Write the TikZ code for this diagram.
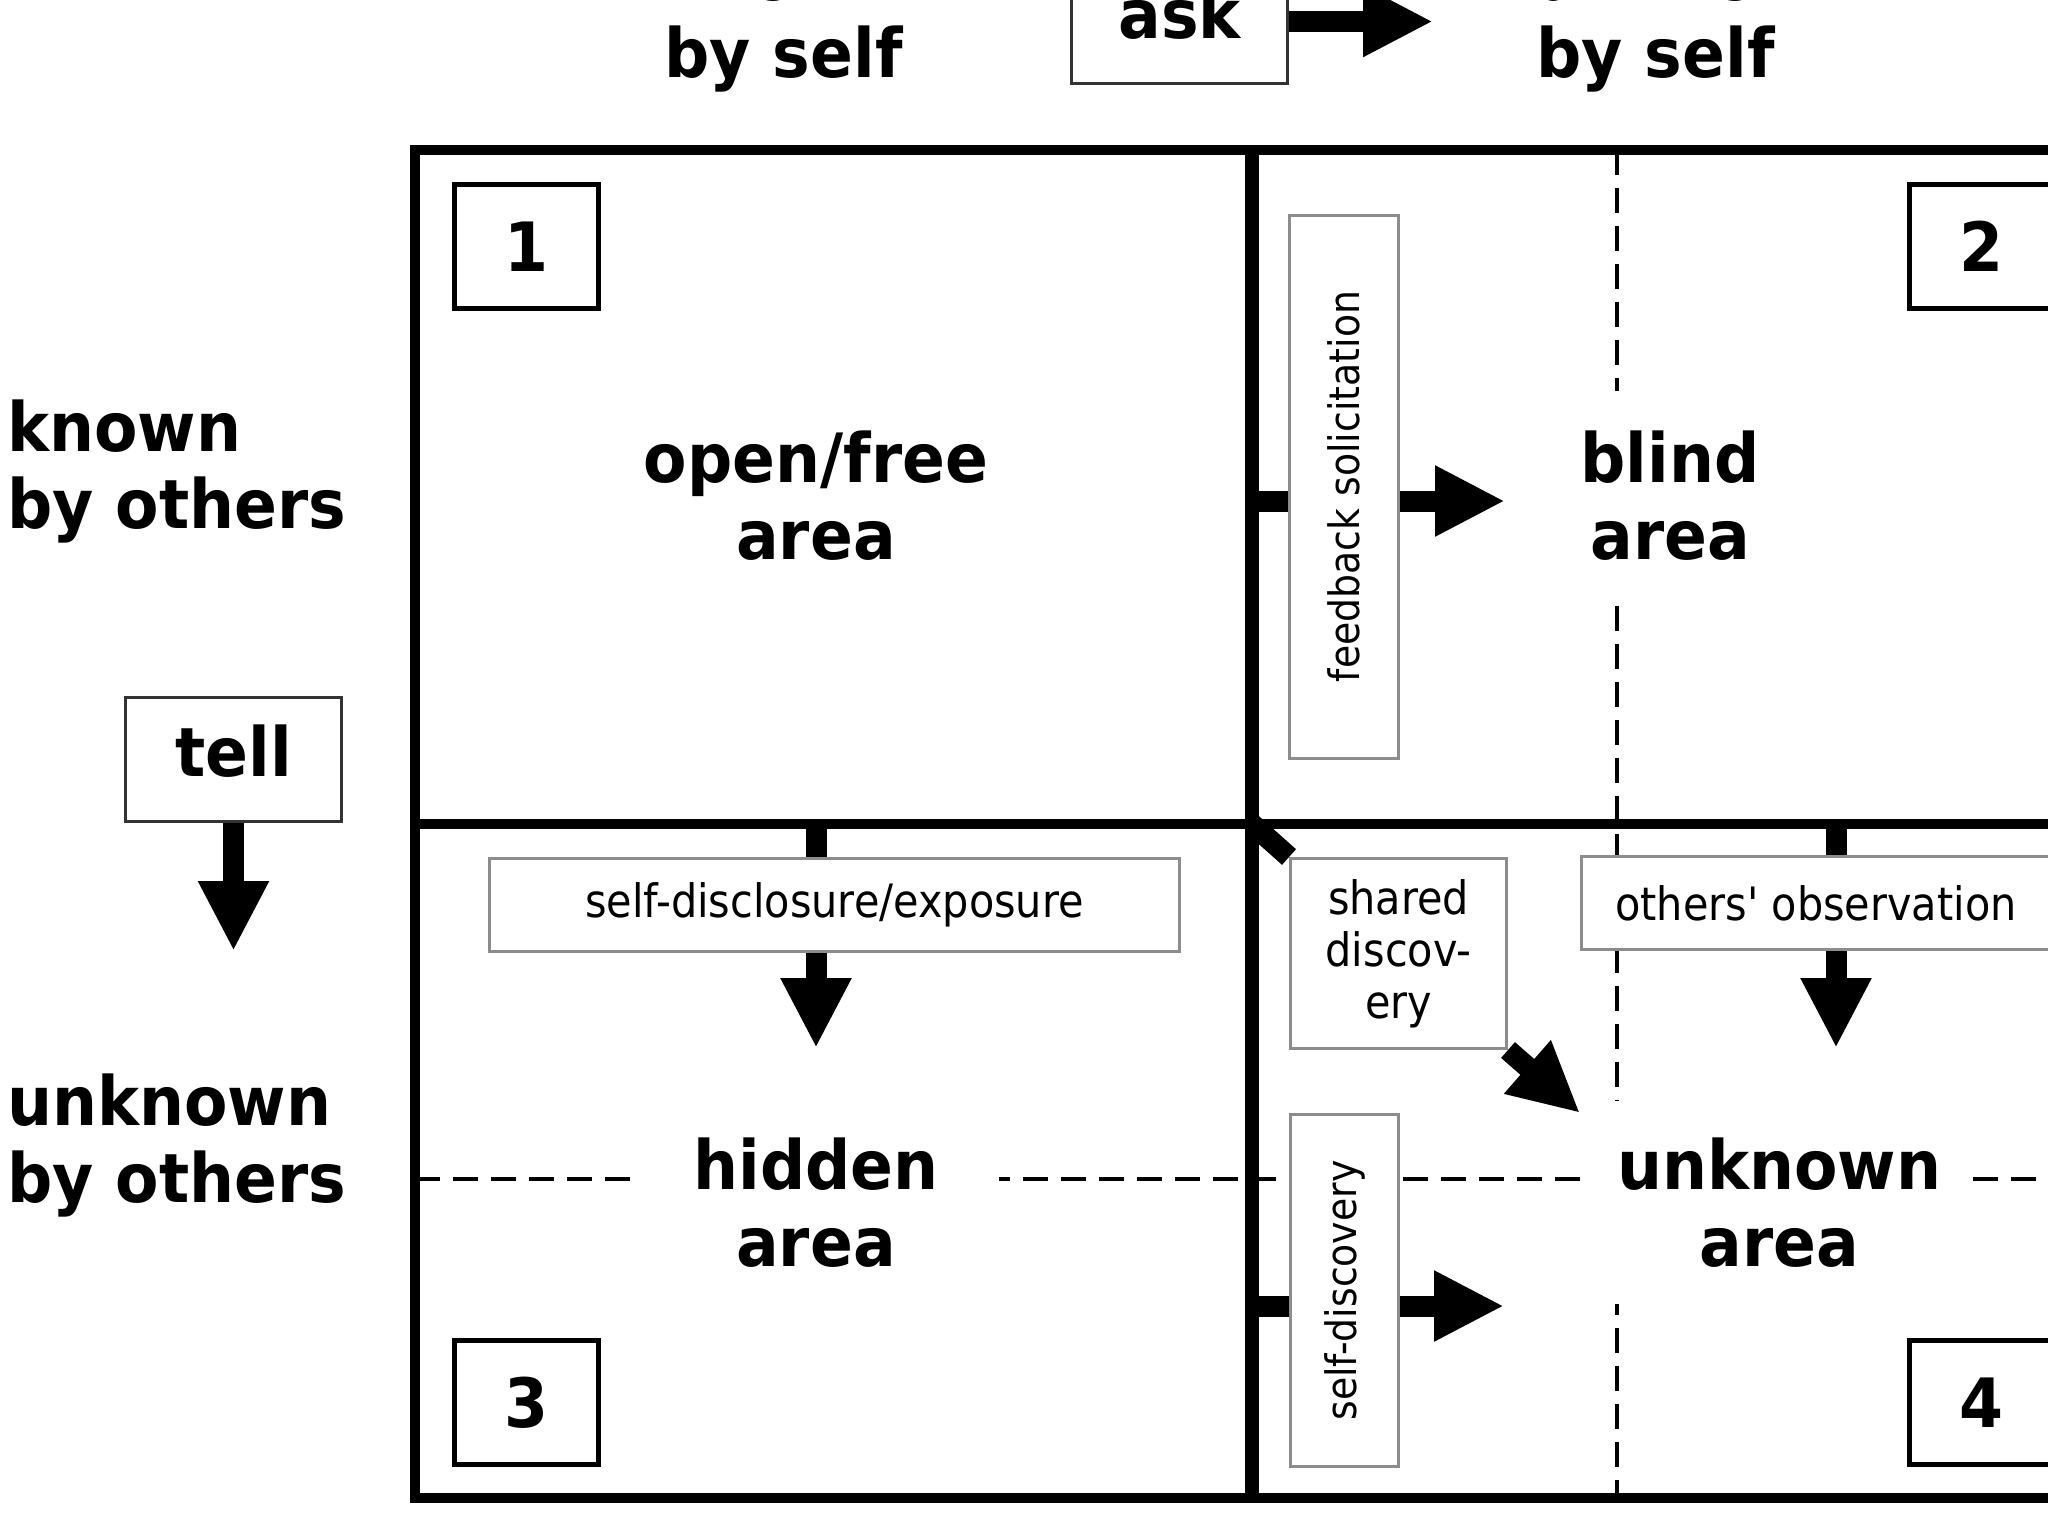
\documentclass[tikz,border=0pt]{standalone}
\usepackage{fontspec}
\setmainfont{DejaVu Sans}
\newfontfamily\bigfont{DejaVu Sans}[FakeStretch=0.93]
\newfontfamily\smfont{DejaVu Sans}[FakeStretch=0.9]
\usetikzlibrary{arrows.meta}
\begin{document}
\begin{tikzpicture}[x=0.5pt,y=-0.5pt,
  bigtxt/.style={font=\bigfont\bfseries\fontsize{34}{38.5}\selectfont, inner sep=0pt},
  areatxt/.style={bigtxt, align=center, fill=white, anchor=south, text depth=0pt},
  sidetxt/.style={bigtxt, align=left, anchor=south west, text depth=0pt},
  numbox/.style={bigtxt, draw=black, line width=2.5pt, fill=white, minimum width=72pt, minimum height=62pt, text height=24.8pt, text depth=0pt},
  actbox/.style={bigtxt, draw=black!80, line width=1.5pt, fill=white, minimum width=108pt, minimum height=62pt, text height=25.8pt, text depth=8.8pt},
  graybox/.style={draw=black!45, line width=1.5pt, fill=white, inner sep=0pt, align=center, font=\smfont\fontsize{23}{26}\selectfont},
  rotbox/.style={graybox, rotate=90, font=\smfont\fontsize{21}{24}\selectfont},
  bigarrow/.style={line width=10.5pt, -{Triangle[length=35pt,width=33pt]}},
  stub/.style={line width=10.5pt},
  dashline/.style={line width=1.75pt, dash pattern=on 12.5pt off 6.5pt},
  frameline/.style={line width=5pt}
]
\useasboundingbox (0,0) rectangle (2048,1536);
\fill[white] (0,0) rectangle (2048,1536);
\clip (0,0) rectangle (2048,1536);

% key coordinates
\coordinate (ftl) at (415,150);
\coordinate (fbr) at (2080,1498);
\coordinate (vtop) at (1252,150);
\coordinate (vbot) at (1252,1498);
\coordinate (hl) at (415,824);
\coordinate (hr) at (2080,824);
\coordinate (mid) at (1252,824);
\coordinate (dvt) at (1617,150);
\coordinate (dvb) at (1617,1498);
\coordinate (dhl) at (415,1179);
\coordinate (dhr) at (2080,1179);

% dashed guide lines
\draw[dashline] (dvt) -- (dvb);
\draw[dashline] (dhl) -- (dhr);

% frame and dividers
\draw[frameline] (ftl) rectangle (fbr);
\draw[frameline] (hl) -- (hr);
\draw[line width=7pt] (vtop) -- (vbot);

% header and side labels
\node[sidetxt] (kbs) at (664,78) {known\\by self};
\node[sidetxt] (ubs) at (1536,78) {unknown\\by self};
\node[sidetxt] (kbo) at (7,529) {known\\by others};
\node[sidetxt] (ubo) at (7,1203) {unknown\\by others};

% area labels
\node[areatxt] (open) at (816,560) {open/free\\area};
\node[areatxt, inner ysep=20pt] (blind) at (1670,600) {blind\\area};
\node[areatxt, inner xsep=30pt, inner ysep=5pt] (hidden) at (816,1277) {hidden\\area};
\node[areatxt, inner xsep=16pt, inner ysep=18.5pt] (unknown) at (1779,1304) {unknown\\area};

% number boxes
\node[numbox] (n1) at (526.5,246.5) {1};
\node[numbox] (n2) at (1981.5,246.5) {2};
\node[numbox] (n3) at (526.5,1402.5) {3};
\node[numbox] (n4) at (1981.5,1402.5) {4};

% action boxes
\node[actbox] (ask) at (1179.5,21.5) {ask};
\node[actbox] (tell) at (233.5,759.5) {tell};

% process boxes
\node[rotbox, minimum width=271.5pt, minimum height=54.5pt] (fb) at (1344,486.5) {feedback solicitation};
\node[rotbox, minimum width=176pt, minimum height=54pt] (sdy) at (1344.5,1290.5) {self-discovery};
\node[graybox, minimum width=345pt, minimum height=46.5pt] (sdb) at (834.5,905) {self-disclosure/exposure};
\node[graybox, minimum width=234.5pt, minimum height=46.5pt] (obs) at (1816,903) {others' observation};
\node[graybox, minimum width=108pt, minimum height=95pt] (sh) at (1398.5,953.5) {shared\\discov-\\ery};

% arrow tips
\coordinate (asktip) at (1433,21.5);
\coordinate (telltip) at (233.5,951);
\coordinate (fbtip) at (1505,501);
\coordinate (sdytip) at (1504,1306);
\coordinate (sdbtip) at (816,1048);
\coordinate (obstip) at (1836,1048);
\coordinate (shtip) at (1580,1113);

% connectors
\draw[bigarrow] (ask.east) -- (asktip);
\draw[bigarrow] (tell.south) -- (telltip);

\draw[stub] (vtop |- fbtip) -- (fb.north |- fbtip);
\draw[bigarrow] (fb.south |- fbtip) -- (fbtip);

\draw[stub] (vtop |- sdytip) -- (sdy.north |- sdytip);
\draw[bigarrow] (sdy.south |- sdytip) -- (sdytip);

\draw[stub] (sdbtip |- mid) -- (sdbtip |- sdb.north);
\draw[bigarrow] (sdbtip |- sdb.south) -- (sdbtip);

\draw[stub] (obstip |- mid) -- (obstip |- obs.north);
\draw[bigarrow] (obstip |- obs.south) -- (obstip);

\draw[stub] (mid) -- (sh.north west);
\draw[bigarrow] (sh.south east) -- (shtip);
\end{tikzpicture}
\end{document}
